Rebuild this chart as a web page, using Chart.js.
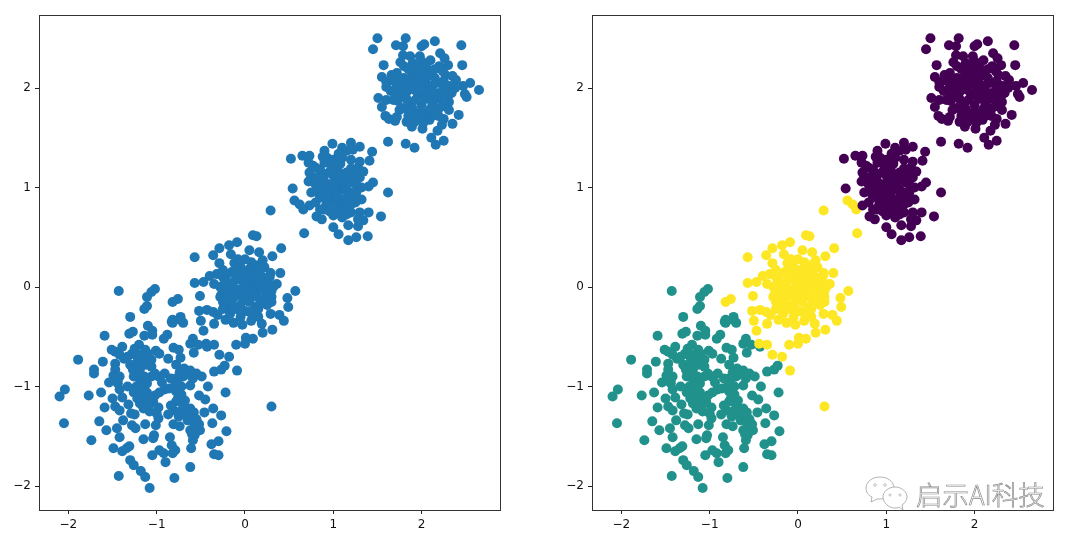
<!doctype html>
<html>
<head>
<meta charset="UTF-8">
<title>clusters</title>
<script src="https://cdn.jsdelivr.net/npm/chart.js@4/dist/chart.umd.min.js"></script>
<style>
	body { margin: 0; background: #fff; width: 1080px; height: 542px; overflow: hidden; position: relative; }
	canvas { position: absolute; top: 0; }
	#mark { position: absolute; left: 916px; top: 474px; font: 300 26.5px "Noto Sans CJK SC"; color: #fff; -webkit-text-stroke: 0.7px #8a8a8a; white-space: nowrap; }
	#icon { position: absolute; left: 864px; top: 475px; }
</style>
</head>
<body>
<canvas id="left" width="540" height="542" style="left:0"></canvas>
<canvas id="right" width="527" height="542" style="left:553px"></canvas>
<svg id="icon" width="50" height="42" fill="#fff" stroke="#aaa" stroke-width="0.9">
	<path d="M16 2C8 2 2 7 2 13c0 4 2 7 6 9l-1 5 6-3c1 0 2 0 3 0 8 0 14-5 14-11S24 2 16 2z"/>
	<path d="M31 12c-7 0-12 5-12 10s5 11 12 11c1 0 3 0 4-1l4 3-1-5c3-2 5-5 5-8 0-5-5-10-12-10z"/>
	<circle cx="11" cy="10" r="1.3" stroke="#bbb"/><circle cx="21" cy="10" r="1.3" stroke="#bbb"/>
	<circle cx="26" cy="20" r="1.1" stroke="#bbb"/><circle cx="36" cy="20" r="1.1" stroke="#bbb"/>
</svg>
<div id="mark">启示AI科技</div>
<script>
var xTicks = [-2, -1, 0, 1, 2];
var yTicks = [-2, -1, 0, 1, 2];

// upper right blob
var topCluster = [[1.50,2.50],[1.45,2.39],[1.82,2.50],[1.71,2.43],[1.79,2.42],[2.00,2.42],[2.03,2.44],[2.15,2.47],[2.45,2.43],[1.57,2.23],[2.46,2.23],[1.76,2.26],[1.79,2.33],[1.87,2.32],[1.98,2.32],[2.21,2.35],[2.26,2.30],[2.30,2.23],[1.55,2.11],[1.60,2.06],[1.60,2.01],[2.39,2.08],[2.55,2.05],[2.47,2.02],[2.65,1.98],[2.38,2.00],[2.49,1.94],[2.51,1.91],[1.51,1.90],[1.60,1.88],[1.55,1.81],[2.31,1.86],[2.31,1.78],[2.42,1.73],[1.59,1.72],[1.63,1.69],[1.70,1.67],[1.83,1.66],[1.89,1.61],[2.01,1.59],[2.25,1.69],[2.23,1.63],[2.35,1.64],[2.18,1.57],[2.11,1.50],[2.25,1.47],[2.16,1.43],[1.92,1.40],[1.82,1.44],[1.62,1.46],[2.09,1.68],
	[1.72,2.15],[1.80,2.22],[1.90,2.25],[2.00,2.27],[2.10,2.28],[2.20,2.22],[2.27,2.13],[2.32,2.02],[2.30,1.92],[2.25,1.82],[2.15,1.75],[2.05,1.72],[1.95,1.73],[1.85,1.72],[1.75,1.78],[1.68,1.88],[1.65,1.97],[1.68,2.07],[1.80,2.10],[1.90,2.15],[2.00,2.17],[2.10,2.15],[2.20,2.05],[2.20,1.95],[2.12,1.85],[2.00,1.83],[1.88,1.85],[1.78,1.93],[1.78,2.02],[1.88,2.02],[1.97,2.05],[2.08,2.02],[2.08,1.93],[1.96,1.93],
	[1.85,2.19],[1.95,2.21],[2.05,2.22],[2.15,2.19],[2.24,2.17],[1.75,2.09],[1.85,2.09],[1.95,2.11],[2.05,2.10],[2.15,2.10],[2.25,2.07],[2.35,2.12],[1.72,2.01],[1.83,2.05],[1.92,2.07],[2.02,2.03],[2.13,2.03],[2.26,2.00],[1.72,1.94],[1.83,1.96],[1.92,1.98],[2.02,1.97],[2.13,1.96],[2.26,1.94],[1.73,1.87],[1.83,1.89],[1.93,1.88],[2.04,1.89],[2.16,1.89],[2.24,1.88],[1.80,1.80],[1.90,1.79],[2.00,1.77],[2.10,1.79],[2.20,1.80],[1.88,1.76],[1.98,1.70],[2.12,1.72],[1.92,1.66],[2.02,1.65],[2.19,1.72],[1.66,2.13],[2.34,1.95],[1.72,1.71]];

// the blob around (1, 1)
var midCluster = [[0.52,1.29],[0.65,1.32],[0.73,1.32],[0.90,1.37],[0.99,1.44],[1.10,1.40],[1.20,1.45],[1.30,1.41],[1.44,1.36],[1.41,1.27],[0.54,0.99],[0.72,1.06],[1.45,1.05],[1.40,1.01],[1.62,0.95],[0.73,0.82],[1.32,0.88],[1.40,0.75],[1.54,0.71],[0.81,0.71],[0.87,0.68],[1.34,0.67],[1.28,0.61],[1.17,0.62],[1.00,0.60],[1.06,0.53],[1.17,0.47],[1.26,0.50],[1.39,0.51],
	[0.80,1.20],[0.90,1.25],[1.00,1.28],[1.10,1.30],[1.20,1.28],[1.28,1.20],[1.30,1.10],[1.32,1.00],[1.25,0.85],[1.20,0.75],[1.10,0.70],[1.00,0.72],[0.90,0.78],[0.80,0.85],[0.75,0.95],[0.73,1.15],[0.85,1.10],[0.95,1.15],[1.05,1.18],[1.15,1.15],[1.22,1.05],[1.20,0.95],[1.10,0.85],[1.00,0.85],[0.90,0.90],[0.85,1.00],[0.95,1.02],[1.05,1.05],[1.10,0.98],[1.00,0.95],[0.77,1.22],[1.15,1.37],[1.22,1.38],[0.93,1.30],[1.30,0.75],[1.28,0.68],[1.34,1.16],
	[0.85,1.18],[0.98,1.21],[1.08,1.24],[1.20,1.19],[1.26,1.13],[0.80,1.10],[0.90,1.13],[1.00,1.12],[1.10,1.12],[1.18,1.10],[0.80,1.03],[0.90,1.06],[1.00,1.05],[1.12,1.05],[1.26,1.03],[0.82,0.95],[0.92,0.97],[1.03,0.98],[1.15,0.98],[1.26,0.95],[0.85,0.90],[0.95,0.88],[1.05,0.91],[1.15,0.90],[1.25,0.90],[0.92,0.83],[1.03,0.80],[1.13,0.80],[1.20,0.83],[1.08,0.75],[0.96,0.76],[0.85,0.78],[1.15,0.73],[1.30,1.26],[0.88,1.31],[1.06,1.34],[0.72,1.25]];

var yellowCluster = [[0.29,0.77],[0.56,0.87],[0.62,0.83],[0.66,0.78],[0.67,0.54],[0.09,0.52],[0.13,0.51],[0.41,0.39],[-0.09,0.45],[-0.18,0.42],[-0.29,0.39],[-0.57,0.30],[-0.36,0.32],[-0.16,0.33],[0.05,0.37],[0.16,0.35],[0.31,0.31],[-0.29,0.24],[-0.12,0.24],[0.20,0.27],[0.40,0.14],[0.29,0.14],[-0.32,0.13],[-0.40,0.11],[-0.47,0.05],[-0.57,0.04],[-0.35,0.03],[0.36,0.03],[0.57,-0.04],[0.48,-0.11],[0.49,-0.20],[-0.51,-0.09],[-0.28,-0.10],[-0.82,-0.15],[-0.76,-0.12],[-0.52,-0.24],[-0.43,-0.23],[-0.36,-0.25],[-0.31,-0.28],[-0.50,-0.34],[-0.35,-0.37],[-0.22,-0.33],[-0.13,-0.36],[-0.03,-0.38],[0.07,-0.34],[0.15,-0.30],[0.19,-0.37],[0.39,-0.28],[0.29,-0.27],[0.44,-0.34],[0.31,-0.43],[0.20,-0.46],[0.09,-0.52],[0.01,-0.51],[0.00,-0.57],[-0.10,-0.58],[-0.47,-0.44],[-0.44,-0.57],[-0.35,-0.58],[-0.29,-0.68],[-0.18,-0.70],[-0.09,-0.84],[0.30,-1.20],
	[-0.25,0.10],[-0.15,0.15],[-0.05,0.20],[0.05,0.18],[0.15,0.12],[0.22,0.05],[0.25,-0.05],[0.20,-0.12],[0.12,-0.20],[0.00,-0.24],[-0.10,-0.22],[-0.20,-0.18],[-0.27,-0.08],[-0.28,0.00],[-0.18,0.03],[-0.10,0.08],[0.00,0.10],[0.10,0.05],[0.15,-0.03],[0.08,-0.10],[-0.02,-0.13],[-0.12,-0.10],[-0.18,-0.05],[-0.05,-0.02],[0.03,0.00],[0.32,0.00],[0.30,-0.10],[0.30,-0.15],[-0.25,-0.15],[-0.25,-0.22],[-0.17,-0.27],[-0.05,-0.30],[0.05,-0.25],[0.15,-0.22],[0.28,0.10],[0.12,0.22],[0.00,0.28],[-0.08,0.28],[0.22,0.20],
	[-0.21,0.12],[-0.10,0.16],[0.01,0.14],[0.11,0.15],[0.20,0.10],[-0.23,0.05],[-0.13,0.05],[-0.04,0.07],[0.05,0.10],[0.17,0.06],[0.27,0.04],[-0.23,-0.03],[-0.12,-0.02],[0.00,0.03],[0.08,-0.02],[0.20,-0.02],[0.30,-0.04],[-0.22,-0.10],[-0.08,-0.07],[0.02,-0.06],[0.13,-0.09],[0.24,-0.10],[-0.15,-0.15],[-0.05,-0.18],[0.05,-0.15],[0.17,-0.16],[0.25,-0.18],[-0.14,-0.22],[0.08,-0.27],[-0.25,0.17],[0.17,0.18],[0.07,0.25],[-0.04,0.13]];

var tealCluster = [[-1.43,-0.04],[-1.02,-0.02],[-1.06,-0.05],[-1.11,-0.10],[-1.11,-0.19],[-1.14,-0.22],[-1.30,-0.30],[-0.82,-0.33],[-0.82,-0.36],[-0.73,-0.30],[-0.70,-0.36],[-1.10,-0.39],[-1.05,-0.44],[-1.05,-0.48],[-1.14,-0.49],[-1.27,-0.45],[-1.31,-0.47],[-1.59,-0.49],[-0.88,-0.48],[-0.92,-0.52],[-1.20,-0.58],[-1.39,-0.60],[-1.51,-0.63],[-1.47,-0.65],[-1.13,-0.63],[-1.01,-0.64],[-0.97,-0.67],[-0.81,-0.61],[-0.75,-0.63],[-1.28,-0.67],[-1.23,-0.69],[-1.37,-0.72],[-1.14,-0.73],[-1.06,-0.73],[-0.87,-0.72],[-0.73,-0.71],[-1.89,-0.73],[-1.61,-0.75],[-1.47,-0.77],[-1.30,-0.78],[-1.06,-0.80],[-0.78,-0.78],[-1.71,-0.83],[-1.71,-0.87],[-1.47,-0.83],[-1.27,-0.83],[-1.19,-0.83],[-0.69,-0.82],[-0.62,-0.84],[-0.55,-0.87],[-0.49,-0.90],[-0.91,-0.87],[-0.98,-0.90],[-1.06,-0.90],[-1.49,-0.89],[-1.42,-0.90],[-1.54,-0.96],[-1.44,-0.97],[-1.19,-0.93],[-1.11,-0.97],[-0.78,-0.92],[-0.70,-0.90],[-0.59,-0.92],[-1.33,-1.00],[-1.23,-1.00],[-1.42,-1.03],[-1.15,-1.04],[-0.91,-1.03],[-0.81,-1.01],[-0.72,-1.00],[-0.62,-0.99],[-0.42,-1.00],[-2.04,-1.03],[-2.10,-1.10],[-1.77,-1.09],[-1.63,-1.06],[-0.22,-1.06],[-1.50,-1.12],[-1.39,-1.11],[-1.17,-1.10],[-1.02,-1.09],[-0.74,-1.09],[-0.52,-1.09],[-0.45,-1.13],[-1.32,-1.18],[-1.13,-1.17],[-1.04,-1.15],[-0.78,-1.15],[-0.68,-1.14],[-1.59,-1.21],[-1.47,-1.20],[-1.42,-1.24],[-1.08,-1.25],[-0.98,-1.21],[-0.81,-1.24],[-0.72,-1.24],[-0.87,-1.28],[-0.62,-1.22],[-0.58,-1.26],[-0.46,-1.26],[-0.36,-1.22],[-0.27,-1.29],[-1.29,-1.27],[-1.25,-1.28],[-0.98,-1.32],[-1.38,-1.34],[-1.65,-1.35],[-2.05,-1.37],[-1.13,-1.38],[-1.01,-1.39],[-0.81,-1.38],[-0.65,-1.34],[-0.74,-1.40],[-0.37,-1.37],[-1.28,-1.39],[-1.24,-1.42],[-1.45,-1.42],[-1.57,-1.44],[-0.57,-1.40],[-0.51,-1.44],[-0.62,-1.44],[-0.21,-1.45],[-1.03,-1.49],[-1.04,-1.52],[-0.57,-1.49],[-1.42,-1.51],[-1.74,-1.54],[-1.15,-1.53],[-0.85,-1.51],[-0.59,-1.54],[-0.83,-1.59],[-0.30,-1.55],[-0.38,-1.58],[-1.31,-1.60],[-1.49,-1.62],[-1.39,-1.65],[-0.79,-1.64],[-0.61,-1.62],[-0.97,-1.64],[-0.92,-1.67],[-1.05,-1.69],[-0.35,-1.68],[-0.30,-1.69],[-1.30,-1.74],[-0.90,-1.76],[-1.26,-1.79],[-0.62,-1.81],[-1.18,-1.85],[-1.43,-1.90],[-1.13,-1.91],[-0.80,-1.92],[-1.08,-2.02],
	[-0.59,-0.52],[-0.62,-0.57],[-0.53,-0.58],[-0.58,-0.66],[-0.43,-0.60],[-0.35,-0.85],[-0.27,-0.83],[-0.23,-0.79],[-0.83,-0.35],[-0.73,-0.33],[-1.20,-0.88],[-1.16,-1.00],[-1.10,-1.12],[-0.78,-1.05],[-0.76,-0.97],[-0.72,-1.08],[-1.22,-1.12],[-1.08,-1.18],
	[-1.33,-0.70],[-1.25,-0.62],[-1.18,-0.68],[-1.10,-0.67],[-1.42,-0.68],[-1.22,-0.76],[-1.12,-0.78],[-1.44,-0.93],[-1.26,-0.90],[-1.14,-0.90],[-1.02,-0.87],[-0.84,-0.92],[-0.74,-0.86],[-0.66,-0.88],[-0.86,-1.02],[-1.26,-1.06],[-1.19,-1.08],[-1.11,-1.06],[-0.97,-1.06],[-0.76,-1.12],[-0.70,-1.18],[-1.19,-1.17],[-1.07,-1.12],[-0.84,-1.19],[-0.75,-1.30],[-0.68,-1.28],[-0.62,-1.33],[-0.55,-1.33],[-0.52,-1.38],[-1.00,-1.27],[-1.15,-1.22],[-0.94,-0.96],[-0.60,-1.48],[-1.34,-1.62],[-0.82,-1.67]];

var pointRadius = 5;

// draws the frame on top and right too, matplotlib style
var framePlugin = {
	id: 'frame',
	afterDraw: function(chart) {
		var a = chart.chartArea, ctx = chart.ctx;
		ctx.save();
		ctx.strokeStyle = '#333';
		ctx.lineWidth = 1;
		ctx.strokeRect(a.left + 0.5, a.top + 0.5, a.right - a.left, a.bottom - a.top);
		ctx.restore();
	}
};

function toPoints(list) {
	return list.map(function(p) { return { x: p[0], y: p[1] }; });
}

function minusLabel(v) {
	return String(v).replace('-', '\u2212');
}

function axis(min, max, ticks, afterFit) {
	return {
		type: 'linear',
		min: min,
		max: max,
		afterBuildTicks: function(scale) {
			scale.ticks = ticks.map(function(v) { return { value: v }; });
		},
		afterFit: afterFit,
		border: { color: '#333', width: 1 },
		grid: { drawOnChartArea: false, tickLength: 4, tickColor: '#222', tickWidth: 1 },
		ticks: {
			color: '#111',
			padding: 4,
			maxRotation: 0,
			autoSkip: false,
			font: { family: 'DejaVu Sans', size: 12 },
			callback: minusLabel
		}
	};
}

function makeChart(id, datasets, rightPad) {
	new Chart(document.getElementById(id).getContext('2d'), {
		type: 'scatter',
		data: { datasets: datasets },
		plugins: [framePlugin],
		options: {
			responsive: false,
			animation: false,
			devicePixelRatio: 1,
			layout: { padding: { top: 15, right: rightPad, left: 0, bottom: 0 } },
			plugins: { legend: { display: false }, tooltip: { enabled: false } },
			scales: {
				x: axis(-2.333, 2.888, xTicks, function(s) { s.height = 32; }),
				y: axis(-2.241, 2.734, yTicks, function(s) { s.width = 39; })
			}
		}
	});
}

function series(list, color) {
	return { data: toPoints(list), backgroundColor: color, borderWidth: 0, pointRadius: pointRadius, clip: false };
}

makeChart('left', [
	series(topCluster.concat(midCluster, yellowCluster, tealCluster), '#1f77b4')
], 40);

// first dataset ends up on top in chart.js
makeChart('right', [
	series(topCluster.concat(midCluster), '#440154'),
	series(yellowCluster, '#fde725'),
	series(tealCluster, '#21918c')
], 27);
</script>
</body>
</html>
